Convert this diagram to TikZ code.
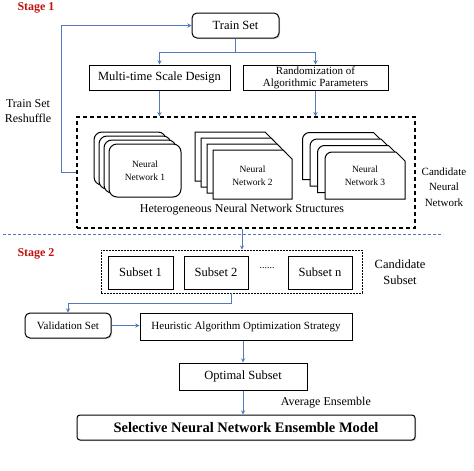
\documentclass[tikz,border=0pt]{standalone}
\usepackage{fontspec}
\setmainfont{Liberation Serif}
\usepackage{tikz}
\usetikzlibrary{shapes}
\usetikzlibrary{arrows}
\usetikzlibrary{positioning}
\usetikzlibrary{calc}
\usetikzlibrary{shadows}
\definecolor{bleufleche}{RGB}{84,120,190}
\definecolor{rougeetape}{RGB}{192,16,16}
\tikzstyle{bloc}=[
        rectangle,
        draw,
        line width=1pt,
        fill=white,
        inner sep=2pt,
        font=\fontsize{12.5}{14}\selectfont,
        drop shadow={shadow xshift=1.2pt,shadow yshift=-1.2pt,opacity=0.3}
]
\tikzstyle{blocrond}=[bloc,rounded corners=5pt]
\tikzstyle{petit}=[font=\fontsize{11}{12}\selectfont]
\tikzstyle{couche}=[draw,line width=1pt,fill=white,rounded corners=8pt,
        align=center,font=\fontsize{9.5}{13}\selectfont]
\tikzstyle{coin}=[fill=white,line width=1pt]
\tikzstyle{reseau}=[align=center,font=\fontsize{9.5}{13}\selectfont]
\tikzstyle{cadre}=[draw,line width=1.4pt,dash pattern=on 4pt off 3pt]
\tikzstyle{cadrepoint}=[draw,line width=0.7pt,dash pattern=on 2pt off 1pt]
\tikzstyle{etape}=[text=rougeetape,font=\fontsize{12}{14}\selectfont\bfseries]
\tikzstyle{texte}=[align=center,font=\fontsize{12}{14.5}\selectfont]
\tikzstyle{fleche}=[->,>=stealth,draw=bleufleche,line width=0.9pt]

\begin{document}
\begin{tikzpicture}[x=1pt,y=-1pt]
\useasboundingbox (0,0) rectangle (474,471);
\node[etape] (stage1) at (36,8) {Stage 1};
\node[blocrond,minimum width=87pt,minimum height=25pt] (train) at (235.5,25.5) {Train Set};
\node[bloc,minimum width=141pt,minimum height=25pt] (multi) at (159.5,77.5) {Multi-time Scale Design};
\node[bloc,petit,minimum width=145pt,minimum height=25pt,inner sep=0pt,align=center] (random) at (315.5,77.5) {Randomization of\\Algorithmic Parameters};
\node[texte] (reshuffle) at (28,111) {Train Set\\Reshuffle};
\node[cadre,minimum width=338pt,minimum height=111pt] (cand) at (246,172.5) {};
\node[align=center,font=\fontsize{11}{15.5}\selectfont] (candnn) at (444,187) {Candidate\\Neural\\Network};
% stacks of networks
\foreach \i in {3,2,1}
  \node[couche,minimum width=72pt,minimum height=53pt] (nn1-\i) at ({145-5*\i},{170.5-4*\i}) {};
\node[couche,minimum width=72pt,minimum height=53pt] (nn1) at (145,170.5) {Neural\\Network 1};
\foreach \i in {3,2,1,0}
  \filldraw[coin] ({213-6*\i},{199-6*\i}) -- ({213-6*\i},{150-6*\i}) -- ({283-6*\i},{150-6*\i}) -- ({292-6*\i},{159-6*\i}) -- ({292-6*\i},{199-6*\i}) -- cycle;
\node[reseau] (nn2) at (252.5,175.5) {Neural\\Network 2};
\foreach \i in {3,2,1,0}
  \filldraw[coin] ({325-7.5*\i},{199-6.5*\i}) [rounded corners=7pt]-- ({325-7.5*\i},{152-6.5*\i}) [sharp corners]-- ({396-7.5*\i},{152-6.5*\i}) -- ({405-7.5*\i},{161-6.5*\i}) -- ({405-7.5*\i},{199-6.5*\i}) -- cycle;
\node[reseau] (nn3) at (365,175.5) {Neural\\Network 3};
\node[texte] (hetero) at (242,210) {Heterogeneous Neural Network Structures};
\draw[draw=bleufleche,line width=0.9pt,dash pattern=on 3pt off 2pt] (3,234) -- (443,234);
\node[etape] (stage2) at (36,254) {Stage 2};
\node[cadrepoint,minimum width=261pt,minimum height=43pt] (subs) at (231.5,271.5) {};
\node[bloc,minimum width=65pt,minimum height=33pt] (sub1) at (140.5,272.5) {Subset 1};
\node[bloc,minimum width=64pt,minimum height=33pt] (sub2) at (216,272.5) {Subset 2};
\node[font=\fontsize{10}{12}\selectfont] (dots) at (267,268) {......};
\node[bloc,minimum width=64pt,minimum height=33pt] (subn) at (320,272.5) {Subset n};
\node[align=center,font=\fontsize{12.5}{16}\selectfont] (candsub) at (400,272) {Candidate\\Subset};
\node[blocrond,petit,minimum width=86pt,minimum height=25pt] (valid) at (68,325.5) {Validation Set};
\node[bloc,petit,minimum width=212pt,minimum height=27pt] (heur) at (246,326.5) {Heuristic Algorithm Optimization Strategy};
\node[bloc,minimum width=128pt,minimum height=27pt] (optimal) at (243,376.5) {Optimal Subset};
\node[bloc,rounded corners=3pt,minimum width=338pt,minimum height=25pt,font=\fontsize{14.5}{16}\selectfont\bfseries] (model) at (246,427.5) {Selective Neural Network Ensemble Model};
%Drawing Edges
\coordinate (boucle) at (61,172.5);
\draw[fleche] (cand.west) -- (boucle) |- (train);
\draw[fleche] (train.south) -- ++(0,14) -| (multi);
\draw[fleche] (train.south) -- ++(0,14) -| (random);
\draw[fleche] (multi) -- (multi |- cand.north);
\draw[fleche] (random) -- (random |- cand.north);
\draw[fleche] (hetero |- cand.south) -- (hetero |- subs.north);
\draw[fleche] (subs.south) -- ++(0,10) -| (valid);
\draw[fleche] (valid.east) -- (valid.east -| heur.west);
\draw[fleche] (heur.south -| optimal) -- (optimal);
\draw[fleche] (optimal) -- (optimal |- model.north) node[midway,right=34pt,text=black,font=\fontsize{12}{14}\selectfont]{Average Ensemble};
\end{tikzpicture}
\end{document}
